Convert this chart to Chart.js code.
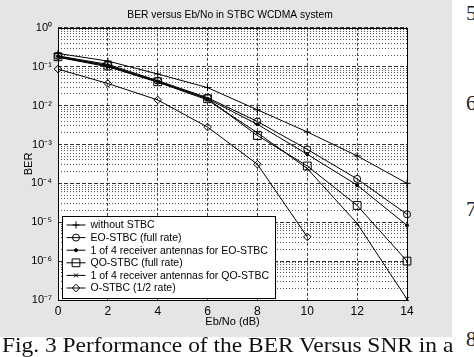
<!DOCTYPE html>
<html><head><meta charset="utf-8">
<script src="https://cdn.jsdelivr.net/npm/chart.js@4/dist/chart.umd.min.js"></script>
<style>
html,body{margin:0;padding:0;background:#fff;width:474px;height:357px;overflow:hidden;position:relative;}
#fig{position:absolute;left:0;top:0;width:452px;height:337px;background:#e5e5e5;}
#c{position:absolute;left:0;top:0;}
#cap{position:absolute;left:2px;top:334px;font-family:'Liberation Serif','Times New Roman',serif;font-size:21.5px;line-height:23px;white-space:nowrap;color:#111;transform:scaleX(1.09);transform-origin:0 0;}
.side{position:absolute;left:466px;font-family:'Liberation Serif','Times New Roman',serif;font-size:21px;line-height:23px;color:#222;}
</style></head><body>
<div id="fig"><canvas id="c" width="452" height="337"></canvas></div>
<div id="cap">Fig. 3 Performance of the BER Versus SNR in a</div>
<div class="side" style="top:2px">5</div>
<div class="side" style="top:92px">6</div>
<div class="side" style="top:198px">7</div>
<div class="side" style="top:328px">8</div>
<script>
// ---- data ----
const snrDb = [0, 2, 4, 6, 8, 10, 12, 14];
const berWithoutStbc   = [0.22, 0.14, 0.065, 0.029, 7.8e-3, 2.1e-3, 5.1e-4, 1.0e-4];
const berEoStbc        = [0.19, 0.115, 0.044, 0.016, 3.9e-3, 7.5e-4, 1.3e-4, 1.6e-5];
const berEoStbc1of4    = [0.185, 0.108, 0.042, 0.015, 3.3e-3, 5.6e-4, 9.0e-5, 8.3e-6];
const berQoStbc        = [0.18, 0.105, 0.041, 0.015, 1.7e-3, 2.8e-4, 2.7e-5, 1.0e-6];
const berQoStbc1of4    = [0.175, 0.10, 0.040, 0.014, 2.0e-3, 2.4e-4, 9.3e-6, 1.05e-7];
const berOStbc         = [0.087, 0.037, 0.014, 2.8e-3, 3.1e-4, 4.2e-6, null, null];
const seriesNames = [
  'without STBC',
  'EO-STBC (full rate)',
  '1 of 4 receiver antennas for EO-STBC',
  'QO-STBC (full rate)',
  '1 of 4 receiver antennas for QO-STBC',
  'O-STBC (1/2 rate)'
];
const xTickValues = [0, 2, 4, 6, 8, 10, 12, 14];
const yDecadeExponents = [-7, -6, -5, -4, -3, -2, -1, 0];
const minorMultipliers = [2, 3, 4, 5, 6, 7, 8, 9];

// ---- styling ----
const FONT = "'Liberation Sans', Arial, Helvetica, sans-serif";
Chart.defaults.font.family = FONT;
Chart.defaults.color = '#000';
const markerStyles = [
  {pointStyle: 'cross', radius: 3.5, fill: false},
  {pointStyle: 'circle', radius: 3.5, fill: false},
  {pointStyle: 'circle', radius: 1.5, fill: true},
  {pointStyle: 'rect', radius: 5.5, fill: false},
  {pointStyle: 'crossRot', radius: 2.8, fill: false},
  {pointStyle: 'rectRot', radius: 3.8, fill: false}
];
const seriesValues = [berWithoutStbc, berEoStbc, berEoStbc1of4, berQoStbc, berQoStbc1of4, berOStbc];

const datasets = seriesValues.map((vals, i) => ({
  label: seriesNames[i],
  data: snrDb.map((x, j) => ({x: x, y: vals[j]})),
  borderColor: '#000',
  borderWidth: 1,
  pointStyle: markerStyles[i].pointStyle,
  pointRadius: markerStyles[i].radius,
  pointBorderColor: '#000',
  pointBorderWidth: 1,
  pointBackgroundColor: markerStyles[i].fill ? '#000' : 'rgba(0,0,0,0)',
  fill: false,
  tension: 0,
  spanGaps: false,
  clip: false
}));

const sup = {'0':'⁰','1':'¹','2':'²','3':'³','4':'⁴','5':'⁵','6':'⁶','7':'⁷','8':'⁸','9':'⁹','-':'⁻'};
const decadeLabel = (e) => '10' + String(e).split('').map(c => sup[c]).join('');

const plotBg = {
  id: 'plotBg',
  beforeDraw(chart) {
    const {ctx, chartArea: a} = chart;
    ctx.save(); ctx.fillStyle = '#fff';
    ctx.fillRect(a.left, a.top, a.right - a.left, a.bottom - a.top);
    ctx.restore();
  },
  afterDatasetsDraw(chart) {
    const {ctx, chartArea: a} = chart;
    ctx.save(); ctx.strokeStyle = '#000'; ctx.lineWidth = 1;
    ctx.strokeRect(Math.round(a.left) + 0.5, Math.round(a.top) + 0.5,
                   Math.round(a.right - a.left), Math.round(a.bottom - a.top));
    ctx.restore();
  }
};

const boxLegend = {
  id: 'boxLegend',
  afterDraw(chart) {
    const {ctx, chartArea: a} = chart;
    const x0 = Math.round(a.left) + 4.5, y0 = 216.5, w = 213, h = 82;
    ctx.save();
    ctx.fillStyle = '#fff'; ctx.strokeStyle = '#000'; ctx.lineWidth = 1;
    ctx.fillRect(x0, y0, w, h); ctx.strokeRect(x0, y0, w, h);
    ctx.font = '10.5px ' + FONT;
    ctx.textBaseline = 'middle'; ctx.textAlign = 'left';
    chart.data.datasets.forEach((ds, i) => {
      const y = 225 + i * 12.6;
      ctx.strokeStyle = '#000'; ctx.lineWidth = 1;
      ctx.beginPath(); ctx.moveTo(x0 + 4, y); ctx.lineTo(x0 + 23, y); ctx.stroke();
      ctx.fillStyle = ds.pointBackgroundColor;
      ctx.strokeStyle = '#000';
      Chart.helpers.drawPoint(ctx, {pointStyle: ds.pointStyle, radius: ds.pointRadius, rotation: 0, borderWidth: 1}, x0 + 13.5, y);
      ctx.fillStyle = '#000';
      ctx.fillText(ds.label, x0 + 28, y + 0.5);
    });
    ctx.restore();
  }
};

new Chart(document.getElementById('c'), {
  type: 'line',
  data: {datasets},
  options: {
    responsive: false,
    animation: false,
    devicePixelRatio: 1,
    layout: {padding: {left: 22, right: 14, top: 0, bottom: 8}},
    plugins: {
      legend: {display: false},
      tooltip: {enabled: false},
      title: {display: true, text: 'BER versus Eb/No in STBC WCDMA system', color: '#000',
              font: {size: 10.3, weight: 'normal', family: FONT}, padding: {top: 8.5, bottom: 7}}
    },
    scales: {
      x: {
        type: 'linear', min: 0, max: 14,
        afterBuildTicks: (s) => { s.ticks = xTickValues.map(v => ({value: v})); },
        ticks: {color: '#000', font: {size: 12}, padding: 4, maxRotation: 0, autoSkip: false,
                callback: (v) => String(v)},
        grid: {color: '#444', lineWidth: 1, drawTicks: false},
        border: {display: false, dash: [3, 2]},
        title: {display: true, text: 'Eb/No (dB)', color: '#000', font: {size: 11}, padding: {top: 0, bottom: 0}},
        afterFit: (s) => { s.height = 29; }
      },
      y: {
        type: 'logarithmic', min: 1e-7, max: 1, position: 'left',
        afterBuildTicks: (s) => { s.ticks = yDecadeExponents.map(e => ({value: Math.pow(10, e), major: true})); },
        ticks: {color: '#000', font: {size: 11}, padding: 6, autoSkip: false,
                callback: (v) => decadeLabel(Math.round(Math.log10(v)))},
        grid: {color: '#333', lineWidth: 1, drawTicks: false},
        border: {display: false, dash: [4, 2]},
        title: {display: true, text: 'BER', color: '#000', font: {size: 11}, padding: {top: 0, bottom: 0}},
        afterFit: (s) => { s.width = 36; }
      },
      y2: {
        type: 'logarithmic', min: 1e-7, max: 1, position: 'left',
        afterBuildTicks: (s) => {
          const t = [];
          yDecadeExponents.slice(0, -1).forEach(e => minorMultipliers.forEach(m => t.push({value: m * Math.pow(10, e)})));
          s.ticks = t;
        },
        ticks: {display: false},
        grid: {color: '#555', lineWidth: 1, drawTicks: false},
        border: {display: false, dash: [1, 2]},
        afterFit: (s) => { s.width = 0; }
      },
      yRightSpace: {
        type: 'linear', position: 'right', min: 0, max: 1,
        ticks: {display: false},
        grid: {display: false, drawTicks: false},
        border: {display: false},
        afterFit: (s) => { s.width = 31; }
      }
    }
  },
  plugins: [plotBg, boxLegend]
});
</script>
</body></html>
